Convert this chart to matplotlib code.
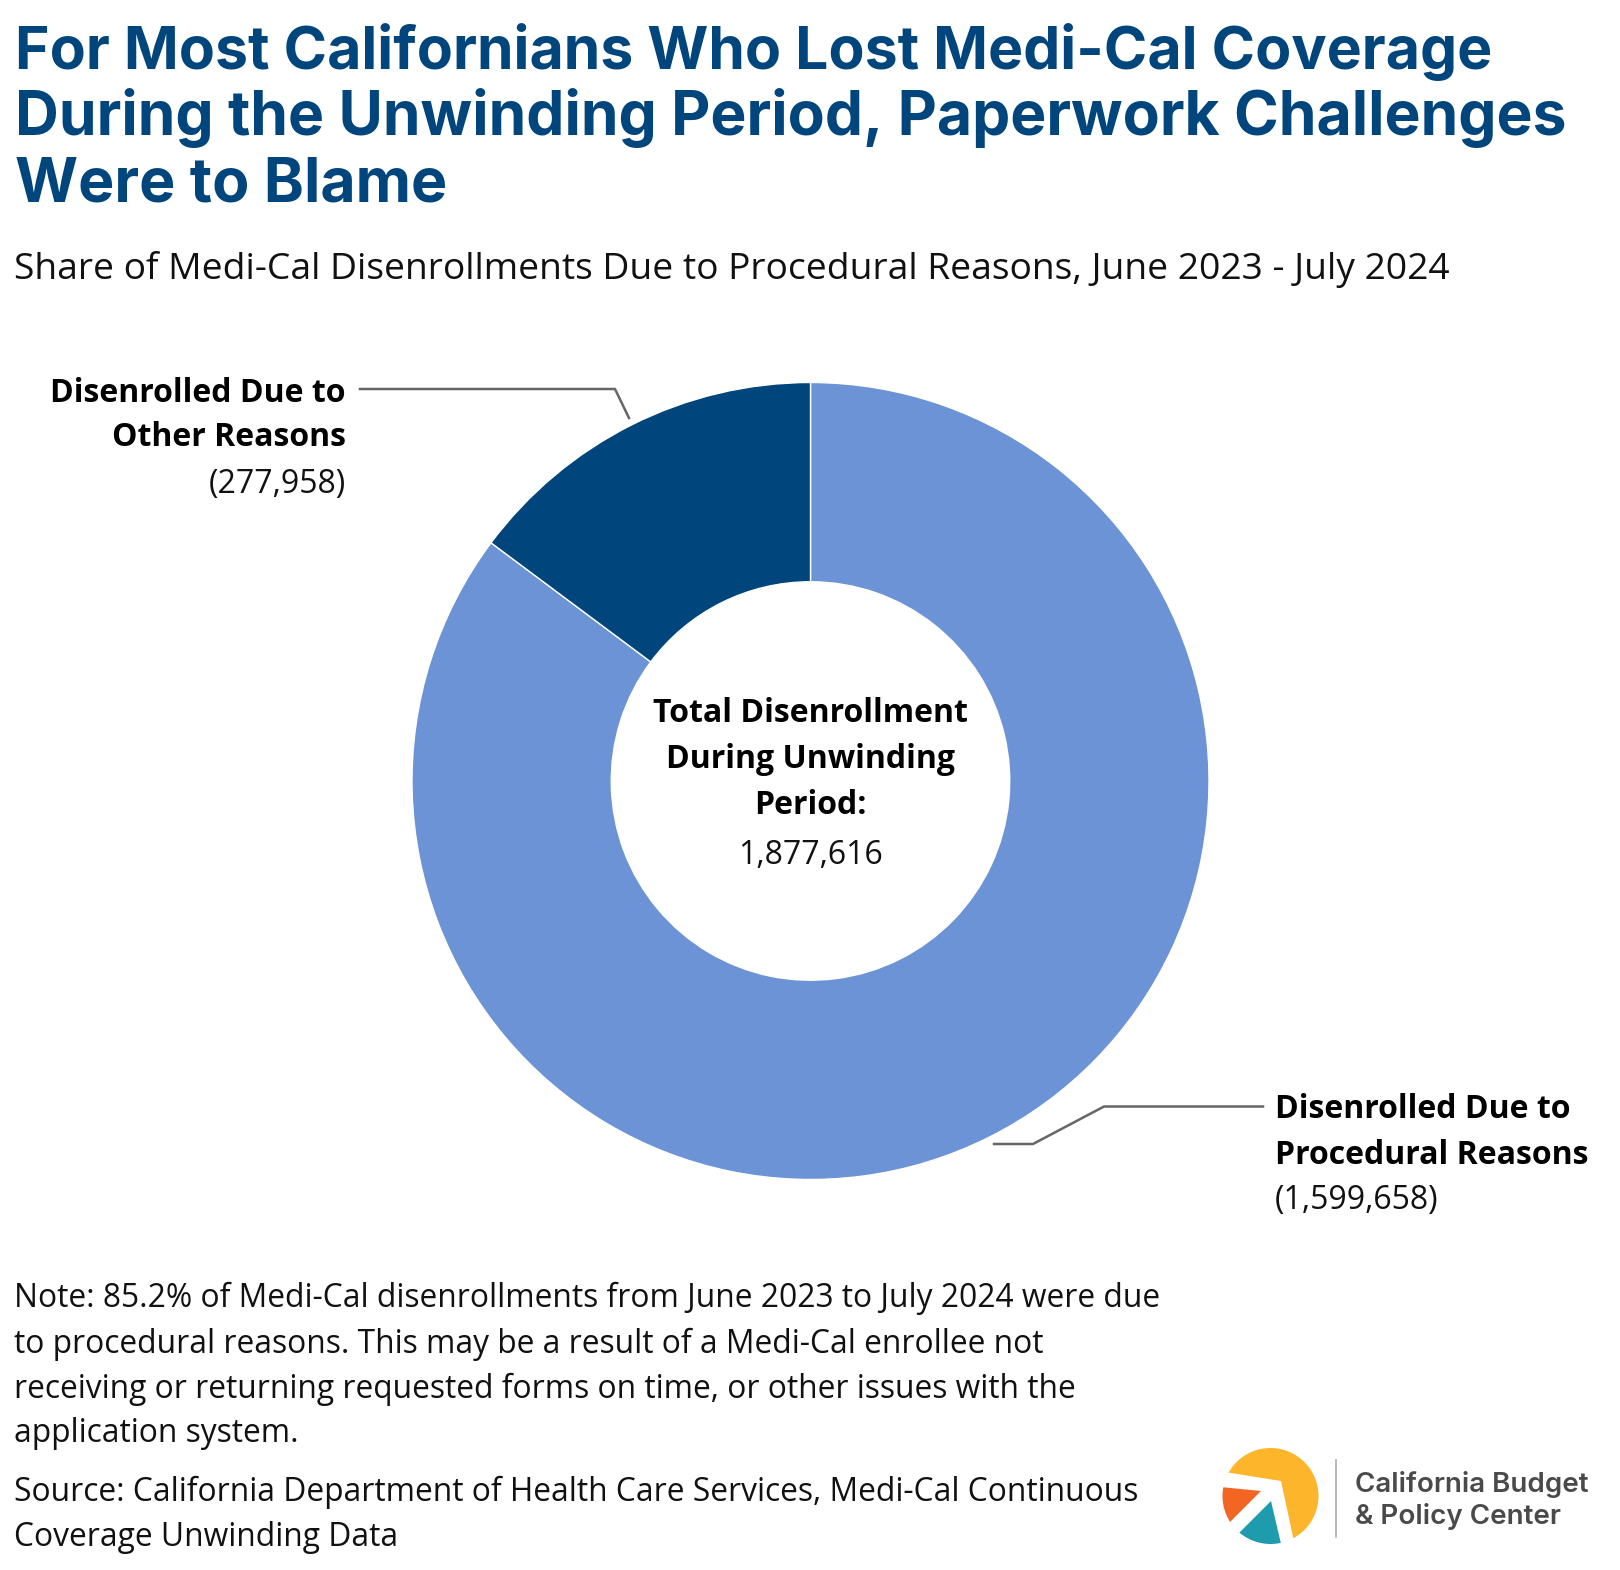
import matplotlib
matplotlib.use('Agg')
import matplotlib.pyplot as plt
from matplotlib.patches import Circle, Polygon

categories = ['Disenrolled Due to\nProcedural Reasons', 'Disenrolled Due to\nOther Reasons']
values = [1599658, 277958]
colors = ['#6B93D6', '#00457C']

title_lines = ['For Most Californians Who Lost Medi-Cal Coverage',
               'During the Unwinding Period, Paperwork Challenges',
               'Were to Blame']
subtitle = 'Share of Medi-Cal Disenrollments Due to Procedural Reasons, June 2023 - July 2024'
center_label = ['Total Disenrollment', 'During Unwinding', 'Period:']
note_lines = ['Note: 85.2% of Medi-Cal disenrollments from June 2023 to July 2024 were due',
              'to procedural reasons. This may be a result of a Medi-Cal enrollee not',
              'receiving or returning requested forms on time, or other issues with the',
              'application system.']
source_lines = ['Source: California Department of Health Care Services, Medi-Cal Continuous',
                'Coverage Unwinding Data']

BODY = 'Open Sans'
SIZE = 23
NOTE_SIZE = 22.87
NAVY = '#00457C'

fig = plt.figure(figsize=(16.2, 15.7), dpi=100, facecolor='white')

# donut
cx, cy, r = 810.5, 781, 398.5
ax = fig.add_axes([(cx - r) / 1620, 1 - (cy + r) / 1570, 2 * r / 1620, 2 * r / 1570])
ax.pie(values, colors=colors, startangle=90, counterclock=False, radius=1,
       wedgeprops=dict(width=0.5, edgecolor='white', linewidth=1))
ax.set_xlim(-1, 1)
ax.set_ylim(-1, 1)

# full figure axes in pixels, for the text and the logo
top = fig.add_axes([0, 0, 1, 1], facecolor='none')
top.set_xlim(0, 1620)
top.set_ylim(1570, 0)
top.axis('off')

# Inter is not as wide as the original title font, sizes fitted per line
for y, size, line in zip([52, 118, 185], [42.4, 43.7, 43.8], title_lines):
    top.text(15, y, line, color=NAVY, fontsize=size, fontweight='bold', family='Inter', va='center')
top.text(14, 269, subtitle, fontsize=26.8, family=BODY, color='#111111', va='center')

# labels and leader lines
for y, line in zip([394, 438], categories[1].split('\n')):
    top.text(346, y, line, fontsize=SIZE, fontweight='bold', family=BODY, ha='right', va='center', color='black')
top.text(346, 484, f'({values[1]:,})', fontsize=SIZE, family=BODY, ha='right', va='center', color='#111111')
top.plot([360, 615, 629], [389, 389, 418], color='#666666', lw=1.8)

for y, line in zip([1110, 1156], categories[0].split('\n')):
    top.text(1275, y, line, fontsize=SIZE, fontweight='bold', family=BODY, va='center', color='black')
top.text(1275, 1201, f'({values[0]:,})', fontsize=SIZE, family=BODY, va='center', color='#111111')
top.plot([1263, 1104, 1033, 994], [1106.5, 1106.5, 1144, 1144], color='#666666', lw=1.8)

# centre of the donut
for y, line in zip([714, 760, 806], center_label):
    top.text(cx, y, line, fontsize=SIZE, fontweight='bold', family=BODY, ha='center', va='center', color='black')
top.text(cx, 855, f'{sum(values):,}', fontsize=SIZE, family=BODY, ha='center', va='center', color='#111111')

for y, line in zip([1298, 1344, 1389, 1434], note_lines):
    top.text(14, y, line, fontsize=NOTE_SIZE, family=BODY, va='center', color='#111111')
for y, line in zip([1492, 1538], source_lines):
    top.text(14, y, line, fontsize=NOTE_SIZE, family=BODY, va='center', color='#111111')

# logo
circle = Circle((1270.5, 1496), 48, transform=top.transData, fc='none', ec='none')
top.add_patch(circle)
shapes = [
    ('#FDB52B', [(1281, 1481), (1200, 1468), (1200, 1400), (1340, 1400), (1340, 1570), (1298, 1560)]),
    ('#F26522', [(1261, 1491), (1200, 1485), (1200, 1552)]),
    ('#1F9BAE', [(1271, 1501), (1210, 1562), (1289, 1578)]),
]
for col, pts in shapes:
    poly = Polygon(pts, closed=True, fc=col, ec='none')
    top.add_patch(poly)
    poly.set_clip_path(circle)
top.plot([1336, 1336], [1460, 1537], color='#B5B5B5', lw=1.3)
top.text(1355, 1484, 'California Budget', fontsize=20, fontweight='semibold', family='Inter', va='center', color='#4A4A4A')
top.text(1355, 1517, '& Policy Center', fontsize=20, fontweight='semibold', family='Inter', va='center', color='#4A4A4A')

fig.savefig('out.png', dpi=100, facecolor='white')
